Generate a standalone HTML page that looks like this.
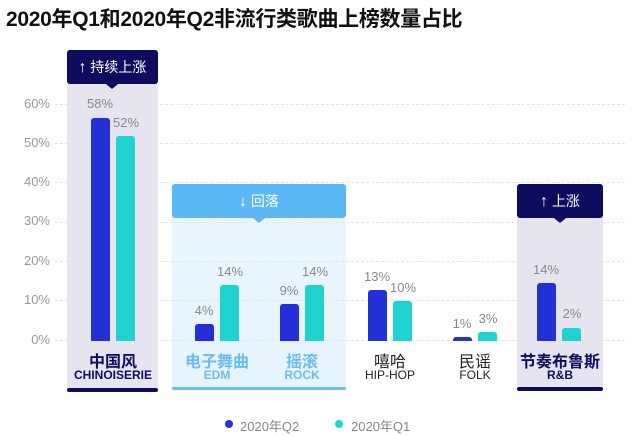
<!DOCTYPE html><html><head><meta charset="utf-8"><style>
body{margin:0;width:640px;height:436px;background:#fff;font-family:"Liberation Sans","Noto Sans CJK SC",sans-serif;position:relative;overflow:hidden}
.a{position:absolute}
.t{left:6px;top:3px;font-size:21px;font-weight:bold;color:#111;letter-spacing:-0.3px}
.yl{left:14px;width:36px;text-align:right;font-size:13px;color:#999}
.g{left:55px;width:570px;border-top:1px dashed #e4e4e4;height:0}
.bar{border-radius:3px 3px 0 0;width:19px;bottom:95px}
.q2{background:#2230d6}.q1{background:#1fd3d0}
.v{font-size:13px;color:#888;width:40px;text-align:center}
.cn{font-size:16px;font-weight:bold;text-align:center;width:90px}
.en{font-size:12px;text-align:center;width:90px}
.hd{color:#fff;font-size:14px;text-align:center;line-height:34px;border-radius:3px}
.hd b{font-size:16px}
</style></head><body>
<div class="a t">2020年Q1和2020年Q2非流行类歌曲上榜数量占比</div>
<div class="a" style="left:67px;top:84px;width:91px;height:306px;background:#e6e5ef"></div>
<div class="a" style="left:67px;top:388px;width:91px;height:4px;background:#0d0c5e;border-radius:2px"></div>
<div class="a" style="left:172px;top:218px;width:174px;height:170px;background:linear-gradient(#eaf6fe,#e6f4fd)"></div>
<div class="a" style="left:172px;top:387px;width:174px;height:3px;background:#6bbcef;border-radius:2px"></div>
<div class="a" style="left:517px;top:218px;width:86px;height:170px;background:#e6e5ef"></div>
<div class="a" style="left:517px;top:387px;width:86px;height:4px;background:#0d0c5e;border-radius:2px"></div>
<div class="a yl" style="top:96px">60%</div><div class="a g" style="top:104px"></div>
<div class="a yl" style="top:135px">50%</div><div class="a g" style="top:143px"></div>
<div class="a yl" style="top:174px">40%</div><div class="a g" style="top:182px"></div>
<div class="a yl" style="top:213px">30%</div><div class="a g" style="top:222px"></div>
<div class="a yl" style="top:253px">20%</div><div class="a g" style="top:261px"></div>
<div class="a yl" style="top:292px">10%</div><div class="a g" style="top:300px"></div>
<div class="a yl" style="top:332px">0%</div><div class="a g" style="top:340px"></div>
<div class="a hd" style="left:67px;top:50px;width:91px;height:34px;background:#0d0c5e"><b>↑</b> 持续上涨</div>
<div class="a" style="left:106px;top:84px;border:6px solid transparent;border-top:5px solid #0d0c5e"></div>
<div class="a hd" style="left:172px;top:184px;width:174px;height:34px;background:#5bb8f5"><b>↓</b> 回落</div>
<div class="a" style="left:253px;top:218px;border:6px solid transparent;border-top:5px solid #5bb8f5"></div>
<div class="a hd" style="left:517px;top:184px;width:86px;height:34px;background:#0d0c5e"><b>↑</b> 上涨</div>
<div class="a" style="left:554px;top:218px;border:6px solid transparent;border-top:5px solid #0d0c5e"></div>

<div class="a bar q2" style="left:91px;height:223px"></div><div class="a bar q1" style="left:116px;height:205px"></div>
<div class="a v" style="left:80px;top:96px">58%</div><div class="a v" style="left:106px;top:115px">52%</div>
<div class="a bar q2" style="left:195px;height:17px"></div><div class="a bar q1" style="left:220px;height:56px"></div>
<div class="a v" style="left:184px;top:303px">4%</div><div class="a v" style="left:210px;top:264px">14%</div>
<div class="a bar q2" style="left:280px;height:37px"></div><div class="a bar q1" style="left:305px;height:56px"></div>
<div class="a v" style="left:269px;top:283px">9%</div><div class="a v" style="left:295px;top:264px">14%</div>
<div class="a bar q2" style="left:368px;height:51px"></div><div class="a bar q1" style="left:393px;height:40px"></div>
<div class="a v" style="left:357px;top:269px">13%</div><div class="a v" style="left:383px;top:280px">10%</div>
<div class="a bar q2" style="left:453px;height:4px"></div><div class="a bar q1" style="left:478px;height:9px"></div>
<div class="a v" style="left:442px;top:316px">1%</div><div class="a v" style="left:468px;top:311px">3%</div>
<div class="a bar q2" style="left:537px;height:58px"></div><div class="a bar q1" style="left:562px;height:13px"></div>
<div class="a v" style="left:526px;top:262px">14%</div><div class="a v" style="left:552px;top:306px">2%</div>

<div class="a cn" style="left:68px;top:348px;color:#0d0c5e">中国风</div><div class="a en" style="left:68px;top:368px;color:#0d0c5e;font-weight:bold">CHINOISERIE</div>
<div class="a cn" style="left:172px;top:348px;color:#6bbcef">电子舞曲</div><div class="a en" style="left:172px;top:368px;color:#6bbcef;font-weight:bold">EDM</div>
<div class="a cn" style="left:257px;top:348px;color:#6bbcef">摇滚</div><div class="a en" style="left:257px;top:368px;color:#6bbcef;font-weight:bold">ROCK</div>
<div class="a cn" style="left:345px;top:348px;color:#222;font-weight:normal">嘻哈</div><div class="a en" style="left:345px;top:368px;color:#222">HIP-HOP</div>
<div class="a cn" style="left:430px;top:348px;color:#222;font-weight:normal">民谣</div><div class="a en" style="left:430px;top:368px;color:#222">FOLK</div>
<div class="a cn" style="left:515px;top:348px;color:#0d0c5e">节奏布鲁斯</div><div class="a en" style="left:515px;top:368px;color:#0d0c5e;font-weight:bold">R&amp;B</div>

<div class="a" style="left:225px;top:420px;width:8px;height:8px;border-radius:50%;background:#2230d6"></div>
<div class="a" style="left:240px;top:416px;font-size:13px;color:#888">2020年Q2</div>
<div class="a" style="left:335px;top:420px;width:8px;height:8px;border-radius:50%;background:#1fd3d0"></div>
<div class="a" style="left:351px;top:416px;font-size:13px;color:#888">2020年Q1</div>
</body></html>
